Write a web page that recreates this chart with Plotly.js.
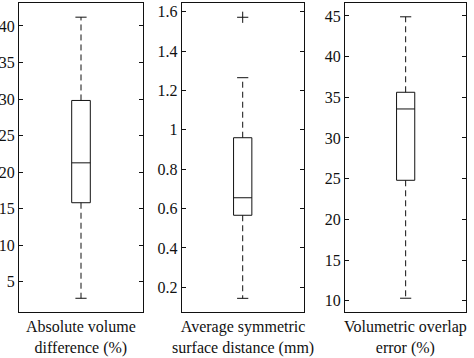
<!DOCTYPE html>
<html><head><meta charset="utf-8">
<script src="https://cdn.plot.ly/plotly-3.0.1.min.js"></script>
<style>html,body{margin:0;padding:0;background:#fff}#c{width:474px;height:358px}</style>
</head><body><div id="c"></div>
<script>
var labels = ['Absolute volume<br>difference (%)', 'Average symmetric<br>surface distance (mm)', 'Volumetric overlap<br>error (%)'];
var q1 = [15.8, 0.566, 24.8];
var medians = [21.26, 0.655, 33.57];
var q3 = [29.8, 0.96, 35.62];
var lowerWhisker = [2.72, 0.144, 10.3];
var upperWhisker = [41.2, 1.265, 44.9];
var outliers = [[], [1.572], []];
var yRanges = [[0.8, 43.1], [0.073, 1.643], [8.57, 46.56]];
var tickVals = [[5,10,15,20,25,30,35,40],[0.2,0.4,0.6,0.8,1,1.2,1.4,1.6],[10,15,20,25,30,35,40,45]];
var tickText = [['5','10','15','20','25','30','35','40'],['0.2','0.4','0.6','0.8','1','1.2','1.4','1.6'],['10','15','20','25','30','35','40','45']];

var W = 474, H = 358;
var xDomPx = [[19, 143], [181.7, 303.7], [345, 466.3]];
var yDom = [(H - 312.3) / H, (H - 3.3) / H];
var font = "'Liberation Serif', 'Times New Roman', serif";
var ink = '#111';

var traces = [];
var layout = {
  width: W, height: H, margin: {l:0, r:0, t:0, b:0},
  paper_bgcolor: '#fff', plot_bgcolor: '#fff', showlegend: false,
  font: {family: font, size: 16, color: ink},
  annotations: []
};
for (var i = 0; i < 3; i++) {
  var s = i === 0 ? '' : String(i + 1);
  var xa = 'x' + s, ya = 'y' + s;
  traces.push({
    type: 'box', xaxis: xa, yaxis: ya, x: [1],
    q1: [q1[i]], median: [medians[i]], q3: [q3[i]],
    lowerfence: [q1[i]], upperfence: [q3[i]],
    width: 0.15, whiskerwidth: 0, boxpoints: false,
    line: {color: ink, width: 1}, fillcolor: 'rgba(0,0,0,0)', hoverinfo: 'skip'
  });
  traces.push({type: 'scatter', mode: 'lines', xaxis: xa, yaxis: ya,
    x: [1, 1], y: [q3[i], upperWhisker[i]], line: {color: ink, width: 1, dash: '6px,4px'}, hoverinfo: 'skip'});
  traces.push({type: 'scatter', mode: 'lines', xaxis: xa, yaxis: ya,
    x: [1, 1], y: [q1[i], lowerWhisker[i]], line: {color: ink, width: 1, dash: '6px,4px'}, hoverinfo: 'skip'});
  traces.push({type: 'scatter', mode: 'markers', xaxis: xa, yaxis: ya,
    x: [1, 1], y: [lowerWhisker[i], upperWhisker[i]],
    marker: {symbol: 'line-ew-open', size: 8, color: ink, line: {color: ink, width: 1}}, hoverinfo: 'skip'});
  if (outliers[i].length) {
    traces.push({type: 'scatter', mode: 'markers', xaxis: xa, yaxis: ya,
      x: outliers[i].map(function(){return 1;}), y: outliers[i],
      marker: {symbol: 'cross-thin-open', size: 8, color: ink, line: {color: ink, width: 1}}, hoverinfo: 'skip'});
  }
  layout['xaxis' + s] = {
    domain: [xDomPx[i][0] / W, xDomPx[i][1] / W], anchor: ya, range: [0.5, 1.5],
    showticklabels: false, ticks: '', showgrid: false, zeroline: false,
    showline: true, mirror: true, linecolor: ink, linewidth: 1, fixedrange: true
  };
  layout['yaxis' + s] = {
    domain: yDom, anchor: xa, range: yRanges[i],
    tickvals: tickVals[i], ticktext: tickText[i],
    ticks: 'inside', ticklen: 4, tickcolor: ink, mirror: 'ticks',
    showgrid: false, zeroline: false, showline: true, linecolor: ink, linewidth: 1,
    tickfont: {family: font, size: 16, color: ink}, automargin: false, fixedrange: true
  };
  layout.annotations.push({
    xref: xa + ' domain', yref: 'paper', x: 0.5, y: yDom[0], yshift: -4,
    xanchor: 'center', yanchor: 'top', showarrow: false, text: labels[i],
    font: {family: font, size: 16, color: ink}
  });
}
Plotly.newPlot('c', traces, layout, {staticPlot: true});
</script></body></html>
